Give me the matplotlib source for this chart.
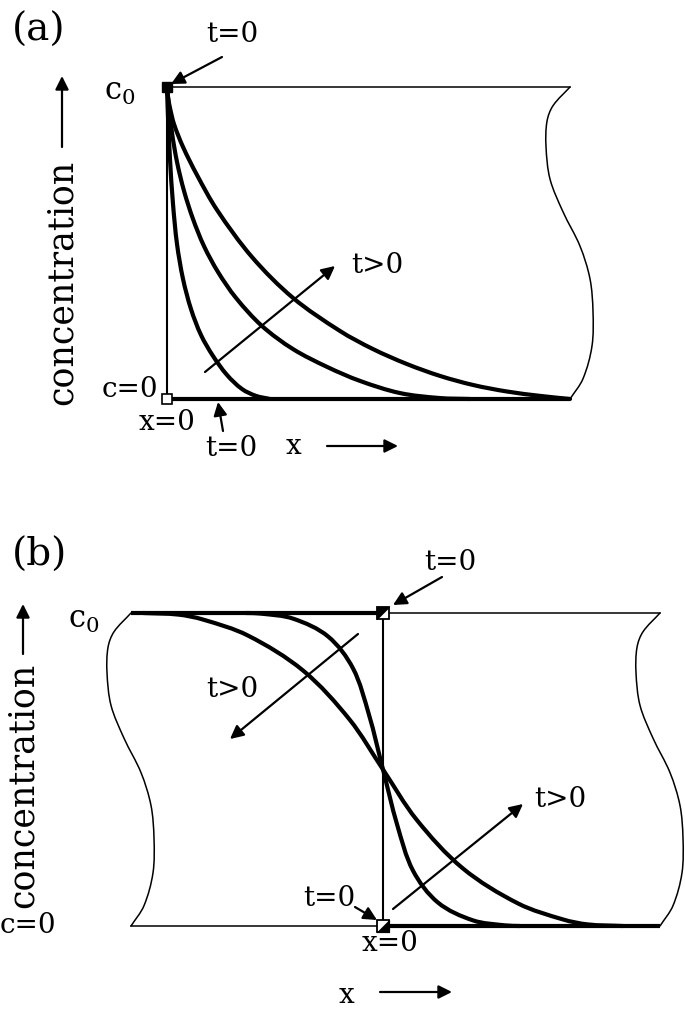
import numpy as np
import matplotlib
matplotlib.use("Agg")
import matplotlib.pyplot as plt
from matplotlib.path import Path
from matplotlib.patches import PathPatch

plt.rcParams['font.family'] = ['DejaVu Serif']
plt.rcParams['mathtext.default'] = 'regular'

# ---- panel (a): semi-infinite source, concentration vs x (x in panel widths, c in c0)
a_curve1_x = [0, 0.0025, 0.0074, 0.0149, 0.0248, 0.0397, 0.0596, 0.0844, 0.1141, 0.1489, 0.1861, 0.2208, 0.2556]
a_curve1_c = [1.0, 0.904, 0.769, 0.625, 0.497, 0.385, 0.288, 0.205, 0.138, 0.077, 0.032, 0.010, 0.0]

a_curve2_x = [0, 0.0050, 0.0124, 0.0248, 0.0422, 0.0645, 0.0918, 0.1266, 0.1712, 0.2357, 0.3127,
              0.3970, 0.4789, 0.5782, 0.6774, 0.7519]
a_curve2_c = [1.0, 0.936, 0.853, 0.760, 0.667, 0.577, 0.490, 0.407, 0.324, 0.234, 0.160,
              0.103, 0.058, 0.019, 0.003, 0.0]

a_curve3_x = [0, 0.0025, 0.0074, 0.0174, 0.0397, 0.0744, 0.1241, 0.2109, 0.3127, 0.4293, 0.5112,
              0.5955, 0.6774, 0.7593, 0.8437, 0.9256, 1.0]
a_curve3_c = [1.0, 0.968, 0.933, 0.881, 0.808, 0.718, 0.606, 0.455, 0.324, 0.218, 0.160,
              0.112, 0.074, 0.045, 0.024, 0.010, 0.0]

# ---- panel (b): step (diffusion couple), x relative to interface
b_narrow_x = [-0.544, -0.484, -0.357, -0.218, -0.119, -0.056, 0, 0.056, 0.119, 0.218, 0.357, 0.484, 0.544]
b_narrow_c = [1.0, 0.998, 0.982, 0.925, 0.823, 0.676, 0.5, 0.324, 0.177, 0.075, 0.018, 0.002, 0.0]

b_wide_x = [-0.952, -0.813, -0.714, -0.536, -0.317, -0.133, 0, 0.133, 0.317, 0.536, 0.714, 0.813, 0.952]
b_wide_c = [1.0, 0.995, 0.979, 0.928, 0.816, 0.660, 0.5, 0.340, 0.184, 0.072, 0.021, 0.005, 0.0]

# wavy cut-off edge of the specimen (fraction down the panel, sideways offset in px)
wave_t = [0, 0.06, 0.11, 0.19, 0.295, 0.40, 0.51, 0.615, 0.72, 0.83, 0.935, 1.0]
wave_dx = [0, -17, -23, -24, -20, -7, 10, 20, 23, 22, 13, 0]

W, H = 685, 1020
fig = plt.figure(figsize=(6.85, 10.2), dpi=100)

# overlay in pixel coordinates for labels and arrows
ov = fig.add_axes([0, 0, 1, 1])
ov.set_xlim(0, W)
ov.set_ylim(H, 0)
ov.axis('off')

THICK = 3.0
THIN = 1.1


def panel(x0, y_top, x1, y_bot, xlim):
    ax = fig.add_axes([x0 / W, 1 - y_bot / H, (x1 - x0) / W, (y_bot - y_top) / H])
    ax.set_xlim(*xlim)
    ax.set_ylim(0, 1)
    ax.axis('off')
    ax.patch.set_alpha(0)
    return ax


def smooth(ax, xs, ys, lw):
    # smooth bezier path through the read points; tangents from neighbours,
    # handle length from the chord, worked out in screen pixels
    pos = ax.get_position()
    x0, x1 = ax.get_xlim()
    sx = pos.width * W / (x1 - x0)
    sy = pos.height * H
    p = np.column_stack([np.asarray(xs) * sx, np.asarray(ys) * sy]).astype(float)
    n = len(p)
    tang = np.zeros_like(p)
    for i in range(n):
        d = p[min(i + 1, n - 1)] - p[max(i - 1, 0)]
        tang[i] = d / np.hypot(*d)
    verts = [p[0]]
    codes = [Path.MOVETO]
    for i in range(n - 1):
        L = np.hypot(*(p[i + 1] - p[i])) / 3
        verts += [p[i] + tang[i] * L, p[i + 1] - tang[i + 1] * L, p[i + 1]]
        codes += [Path.CURVE4] * 3
    verts = np.array(verts) / [sx, sy]
    ax.add_patch(PathPatch(Path(verts, codes), fill=False, lw=lw,
                           edgecolor='k', clip_on=False, capstyle='round'))


def wavy(ax, x_edge, px_per_unit):
    xs = [x_edge + d / px_per_unit for d in wave_dx]
    cs = [1 - t for t in wave_t]
    smooth(ax, xs, cs, THIN)


def arrow(tail, head, lw=1.6):
    ov.annotate('', xy=head, xytext=tail,
                arrowprops=dict(arrowstyle='-|>', color='k', lw=lw,
                                mutation_scale=20, shrinkA=0, shrinkB=0))


def label(x, y, s, size=20):
    ov.text(x, y, s, fontsize=size, ha='center', va='center')


# ================= (a) =================
axA = panel(167, 88, 570, 400, (0, 1))
axA.plot([0, 1], [1, 1], color='k', lw=THIN, clip_on=False)
axA.plot([0, 0], [0, 1], color='k', lw=1.5, clip_on=False)
axA.plot([0, 1], [0, 0], color='k', lw=THICK, clip_on=False, solid_capstyle='butt')
wavy(axA, 1.0, 403)
for xs, cs in [(a_curve1_x, a_curve1_c), (a_curve2_x, a_curve2_c), (a_curve3_x, a_curve3_c)]:
    smooth(axA, xs, cs, THICK)
axA.plot([0], [1], marker='s', ms=6.5, mfc='k', mec='k', clip_on=False)
axA.plot([0], [0], marker='s', ms=6.5, mfc='white', mec='k', mew=1.2, clip_on=False)

ov.text(12, 30, '(a)', fontsize=28, ha='left', va='center')
label(232, 35, 't=0')
arrow((222, 58), (171, 85))
ov.text(136, 92, r'$c_0$', fontsize=22, ha='right', va='center')
label(130, 390, 'c=0')
label(167, 423, 'x=0')
label(231, 449, 't=0')
arrow((223, 432), (218, 403))
label(294, 447, 'x')
arrow((327, 447), (398, 447))
label(377, 266, 't>0')
arrow((205, 373), (335, 267))
ov.text(72, 405, 'concentration', fontsize=25, rotation=90,
        rotation_mode='anchor', ha='left', va='baseline')
arrow((62, 148), (62, 77))

# ================= (b) =================
axB = panel(131, 614, 660, 927, (-1, 277 / 252))
axB.plot([-1, 0], [1, 1], color='k', lw=THICK, clip_on=False, solid_capstyle='butt')
axB.plot([0, 277 / 252], [1, 1], color='k', lw=THIN, clip_on=False)
axB.plot([-1, 0], [0, 0], color='k', lw=THIN, clip_on=False)
axB.plot([0, 277 / 252], [0, 0], color='k', lw=THICK, clip_on=False, solid_capstyle='butt')
axB.plot([0, 0], [0, 1], color='k', lw=1.5, clip_on=False)
wavy(axB, -1.0, 252)
wavy(axB, 277 / 252, 252)
for xs, cs in [(b_narrow_x, b_narrow_c), (b_wide_x, b_wide_c)]:
    smooth(axB, xs, cs, THICK)
ul_tri = [(-1, -1), (-1, 1), (1, 1), (-1, -1)]
lr_tri = [(-1, -1), (1, -1), (1, 1), (-1, -1)]
for c, tri in [(1, ul_tri), (0, lr_tri)]:
    axB.plot([0], [c], marker='s', ms=9, mfc='white', mec='k', mew=1.3, clip_on=False)
    axB.plot([0], [c], marker=tri, ms=9, mfc='k', mec='k', mew=0.5, clip_on=False)

ov.text(12, 555, '(b)', fontsize=28, ha='left', va='center')
label(450, 563, 't=0')
arrow((442, 578), (393, 606))
ov.text(100, 620, r'$c_0$', fontsize=22, ha='right', va='center')
label(232, 690, 't>0')
arrow((358, 635), (230, 740))
label(560, 800, 't>0')
arrow((393, 910), (523, 805))
ov.text(0, 926, 'c=0', fontsize=20, ha='left', va='center')
label(329, 899, 't=0')
arrow((355, 908), (377, 921))
label(390, 944, 'x=0')
label(347, 996, 'x')
arrow((380, 993), (452, 993))
ov.text(33, 908, 'concentration', fontsize=25, rotation=90,
        rotation_mode='anchor', ha='left', va='baseline')
arrow((23, 655), (23, 605))

fig.savefig('out.png', dpi=100)
